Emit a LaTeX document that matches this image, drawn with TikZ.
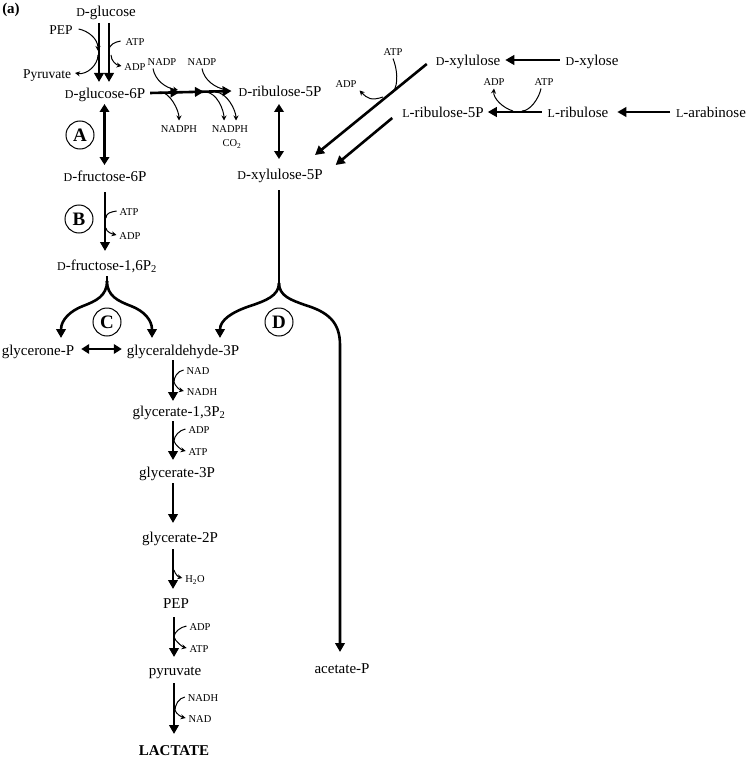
\documentclass[tikz,border=0pt]{standalone}
\usepackage{fontspec}
\setmainfont{Liberation Serif}
\usetikzlibrary{arrows.meta}
\usetikzlibrary{decorations.markings}
\newcommand{\lowD}[1]{\scalebox{0.8}{#1}}
\tikzset{
  metab/.style={inner sep=0pt, outer sep=0pt, text height=11pt, text depth=0pt, font=\fontsize{15}{16}\selectfont},
  cofac/.style={inner sep=0pt, outer sep=3pt, text height=9pt, text depth=0pt, font=\fontsize{10.5}{11}\selectfont},
  midlab/.style={inner sep=0pt, outer sep=3pt, text height=11pt, text depth=0pt, font=\fontsize{13.5}{14}\selectfont},
  stepmark/.style={circle, draw=black, line width=1pt, minimum size=28pt, inner sep=0pt, font=\fontsize{19}{19}\selectfont\bfseries},
  flux/.style={line width=2.6pt, -{Triangle[length=9pt,width=9.5pt]}},
  bothflux/.style={line width=2.6pt, {Triangle[length=8pt,width=9.5pt]}-{Triangle[length=8pt,width=9.5pt]}},
  branch/.style={line width=2.6pt},
  sidearc/.style={line width=1pt, -{Stealth[length=5pt,width=5pt]}},
  sidein/.style={line width=1pt}
}
\begin{document}
\begin{tikzpicture}[x=1pt,y=-1pt]
                \useasboundingbox (0,0) rectangle (747,757);
                \node[inner sep=0pt, font=\fontsize{15}{16}\selectfont\bfseries] (panel) at (11,10) {(a)};
                \node[metab] (glc) at (106,11) {\lowD{D}-glucose};
                \node[metab] (g6p) at (105,93) {\lowD{D}-glucose-6P};
                \node[metab] (f6p) at (105,176) {\lowD{D}-fructose-6P};
                \node[metab] (fbp) at (107,265) {\lowD{D}-fructose-1,6P\textsubscript{2}};
                \node[metab] (dhap) at (38,350) {glycerone-P};
                \node[metab] (gap) at (183,350) {glyceraldehyde-3P};
                \node[metab] (bpg) at (179,411) {glycerate-1,3P\textsubscript{2}};
                \node[metab] (pg3) at (177,472) {glycerate-3P};
                \node[metab] (pg2) at (180,537) {glycerate-2P};
                \node[metab] (pep) at (176,603) {PEP};
                \node[metab] (pyr) at (175,670) {pyruvate};
                \node[metab, font=\fontsize{15}{16}\selectfont\bfseries] (lac) at (174,749.5) {LACTATE};
                \node[metab] (acp) at (342,668) {acetate-P};
                \node[metab] (ru5p) at (280,91) {\lowD{D}-ribulose-5P};
                \node[metab] (xu5p) at (280,174) {\lowD{D}-xylulose-5P};
                \node[metab] (xlu) at (468,60) {\lowD{D}-xylulose};
                \node[metab] (xyl) at (592,60) {\lowD{D}-xylose};
                \node[metab] (lru5p) at (443,112) {\lowD{L}-ribulose-5P};
                \node[metab] (lru) at (578,112) {\lowD{L}-ribulose};
                \node[metab] (ara) at (711,112) {\lowD{L}-arabinose};

                \node[midlab] (pepin) at (61,29) {PEP};
                \node[midlab] (pyrout) at (47,73) {Pyruvate};
                \node[cofac] (atpa) at (135,41) {ATP};
                \node[cofac] (adpa) at (135,66) {ADP};
                \node[cofac] (nadpa) at (162,61) {NADP};
                \node[cofac] (nadpb) at (202,61) {NADP};
                \node[cofac] (nadpha) at (179,128) {NADPH};
                \node[cofac] (nadphb) at (230,128) {NADPH};
                \node[cofac] (co2) at (232,142) {CO\textsubscript{2}};
                \node[cofac] (atpx) at (393,51) {ATP};
                \node[cofac] (adpx) at (346,83) {ADP};
                \node[cofac] (adpr) at (494,81) {ADP};
                \node[cofac] (atpr) at (544,81) {ATP};
                \node[cofac] (atpb) at (129,211) {ATP};
                \node[cofac] (adpb) at (130,235) {ADP};
                \node[cofac] (nadc) at (198,370) {NAD};
                \node[cofac] (nadhc) at (202,391) {NADH};
                \node[cofac] (adpc) at (199,429) {ADP};
                \node[cofac] (atpc) at (198,451) {ATP};
                \node[cofac] (water) at (195,578) {H\textsubscript{2}O};
                \node[cofac] (adpd) at (200,626) {ADP};
                \node[cofac] (atpd) at (199,648) {ATP};
                \node[cofac] (nadhd) at (203,697) {NADH};
                \node[cofac] (nadd) at (200,718) {NAD};

                \node[stepmark] (stepA) at (80,135) {A};
                \node[stepmark] (stepB) at (79,219) {B};
                \node[stepmark] (stepC) at (107,322) {C};
                \node[stepmark] (stepD) at (279,322) {D};

                \coordinate (forkC) at (107,281);
                \coordinate (forkD) at (279,283);
                \coordinate (tipCl) at (61,338);
                \coordinate (tipCr) at (152,338);
                \coordinate (tipDl) at (220,338);

                \draw[flux] ([shift={(-7,6.5)}]glc.south) -- ([shift={(-6,-5.5)}]g6p.north);
                \draw[flux] ([shift={(3,6.5)}]glc.south) -- ([shift={(4,-5.5)}]g6p.north);
                \draw[bothflux] ([shift={(-0.5,5.5)}]g6p.south) -- ([shift={(-0.5,-5.5)}]f6p.north);
                \draw[flux] ([shift={(0,10.5)}]f6p.south) -- ([shift={(-2,-8.5)}]fbp.north);
                \draw[bothflux] ([shift={(-1,7.5)}]ru5p.south) -- ([shift={(-1,-9.5)}]xu5p.north);
                \draw[flux, decoration={markings, mark=at position 0.36 with {\arrow{Triangle[length=9pt,width=9.5pt]}}, mark=at position 0.66 with {\arrow{Triangle[length=9pt,width=9.5pt]}}}, postaction={decorate}] ([xshift=5]g6p.east) -- ([xshift=-7]ru5p.west);
                \draw[flux] ([shift={(-9,4)}]xlu.west) -- ([shift={(35,-13.5)}]xu5p.north);
                \draw[flux] ([shift={(-10,6)}]lru5p.west) -- ([shift={(13,-9)}]xu5p.east);
                \draw[flux] ([xshift=-6]xyl.west) -- ([xshift=5]xlu.east);
                \draw[flux] ([xshift=-6]lru.west) -- ([xshift=4]lru5p.east);
                \draw[flux] ([xshift=-6]ara.west) -- ([xshift=9]lru.east);
                \draw[bothflux] ([shift={(7,-1)}]dhap.east) -- ([shift={(-5,-1)}]gap.west);
                \draw[flux] ([shift={(-10,4.5)}]gap.south) -- ([shift={(-6,-4.5)}]bpg.north);
                \draw[flux] ([shift={(-6,4.5)}]bpg.south) -- ([shift={(-4,-6.5)}]pg3.north);
                \draw[flux] ([shift={(-4,5.5)}]pg3.south) -- ([shift={(-7,-8.5)}]pg2.north);
                \draw[flux] ([shift={(-7,6.5)}]pg2.south) -- ([shift={(-3,-8.5)}]pep.north);
                \draw[flux] ([shift={(-2,8.5)}]pep.south) -- ([shift={(-1,-7.5)}]pyr.north);
                \draw[flux] ([shift={(-1,7.5)}]pyr.south) -- ([shift={(0,-10)}]lac.north);

                \draw[branch] ([shift={(0,5.5)}]fbp.south) -- (forkC);
                \draw[flux] (forkC) .. controls (107,296) and (96,301) .. (83,306) .. controls (70,311) and (61,320) .. (tipCl);
                \draw[flux] (forkC) .. controls (107,296) and (118,301) .. (131,306) .. controls (144,311) and (152,320) .. (tipCr);
                \draw[branch] ([shift={(-1,10.5)}]xu5p.south) -- (forkD);
                \draw[flux] (forkD) .. controls (279,296) and (265,301) .. (250,306) .. controls (232,312) and (220,320) .. (tipDl);
                \draw[flux] (forkD) .. controls (279,296) and (291,300) .. (305,305) .. controls (328,312) and (340,322) .. (340,345) -- ([shift={(-2,-10.5)}]acp.north);

                \coordinate (hkin) at (98,51);
                \coordinate (hkout) at (98,55);
                \coordinate (glkin) at (109,50);
                \coordinate (glkout) at (111,55);
                \coordinate (ppa) at (178,90);
                \coordinate (ppb) at (228,90);
                \coordinate (ppc) at (160,92);
                \coordinate (ppd) at (205,92);
                \coordinate (ppe) at (215,92);
                \coordinate (xkin) at (393,92);
                \coordinate (xkout) at (383,97);
                \coordinate (rkin) at (522,111);
                \coordinate (rkout) at (513,111);
                \coordinate (pfkin) at (106,218);
                \coordinate (pfkout) at (106,228);
                \coordinate (gdin) at (174,382);
                \coordinate (pkin) at (174,441);
                \coordinate (enout) at (174,570);
                \coordinate (pyin) at (174,637);
                \coordinate (ldin) at (175,710);

                \draw[sidearc] ([xshift=3]pepin.east) .. controls +(10,2) and +(0,-12) .. (hkin);
                \draw[sidearc] (hkout) .. controls +(0,10) and +(12,2) .. ([xshift=1]pyrout.east);
                \draw[sidein] ([xshift=-2]atpa.west) .. controls +(-6,1) and +(0,-5) .. (glkin);
                \draw[sidearc] (glkout) .. controls +(0,6) and +(-5,-1) .. (adpa.west);
                \draw[sidearc] ([xshift=-9]nadpa.south) .. controls +(2,12) and +(-12,-2) .. (ppa);
                \draw[sidearc] (ppc) .. controls +(10,0) and +(0,-10) .. (nadpha.north);
                \draw[sidearc] (nadpb.south) .. controls +(2,12) and +(-12,-2) .. (ppb);
                \draw[sidearc] (ppd) .. controls +(12,0) and +(0,-10) .. ([xshift=-6]nadphb.north);
                \draw[sidearc] (ppe) .. controls +(12,0) and +(0,-10) .. ([xshift=6]nadphb.north);
                \draw[sidein] (atpx.south) .. controls +(4,10) and +(6,-8) .. (xkin);
                \draw[sidearc] (xkout) .. controls +(-12,4) and +(8,8) .. (adpx.south east);
                \draw[sidein] ([xshift=-3]atpr.south) .. controls +(-2,10) and +(8,0) .. (rkin);
                \draw[sidearc] (rkout) .. controls +(-10,-3) and +(-1,10) .. (adpr.south);
                \draw[sidein] (atpb.west) .. controls +(-6,1) and +(0,-5) .. (pfkin);
                \draw[sidearc] (pfkout) .. controls +(0,4) and +(-4,-1) .. (adpb.west);
                \draw[sidein] (nadc.west) .. controls +(-6,1) and +(0,-5) .. (gdin);
                \draw[sidearc] (gdin) .. controls +(1,4) and +(-4,-1) .. (nadhc.west);
                \draw[sidein] (adpc.west) .. controls +(-6,1) and +(0,-5) .. (pkin);
                \draw[sidearc] (pkin) .. controls +(1,4) and +(-4,-1) .. (atpc.west);
                \draw[sidearc] (enout) .. controls +(1,4) and +(-4,-1) .. (water.west);
                \draw[sidein] (adpd.west) .. controls +(-6,1) and +(0,-5) .. (pyin);
                \draw[sidearc] (pyin) .. controls +(1,4) and +(-4,-1) .. (atpd.west);
                \draw[sidein] (nadhd.west) .. controls +(-6,1) and +(0,-5) .. (ldin);
                \draw[sidearc] (ldin) .. controls +(1,4) and +(-4,-1) .. (nadd.west);
\end{tikzpicture}
\end{document}
